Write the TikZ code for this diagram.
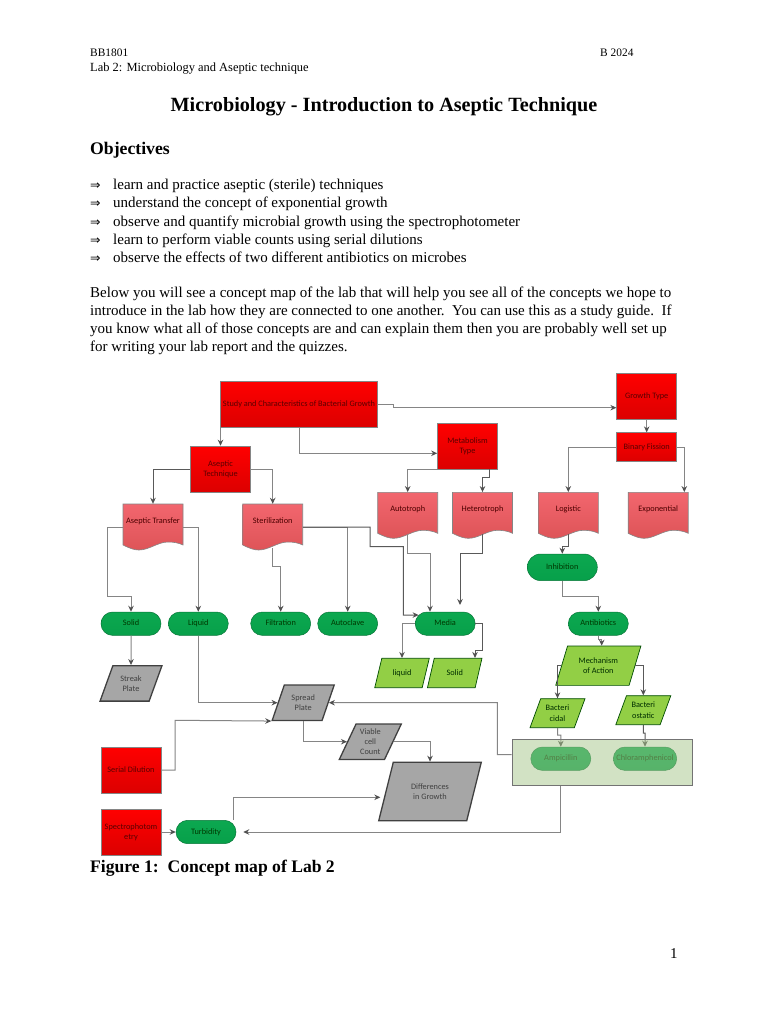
\documentclass[tikz,border=0pt]{standalone}
\usepackage{fontspec}
\setmainfont{Liberation Serif}
\newfontfamily\mapfont{Carlito}
\newfontfamily\markfont{DejaVu Sans}
\usetikzlibrary{arrows.meta,shapes.geometric,shapes.misc}

\definecolor{linegray}{HTML}{858585}
\definecolor{tipgray}{HTML}{505050}
\definecolor{redtop}{HTML}{FF0000}
\definecolor{redlow}{HTML}{DC0000}
\definecolor{pinktop}{HTML}{F2666E}
\definecolor{pinklow}{HTML}{DE5458}
\definecolor{pilltop}{HTML}{0CA850}
\definecolor{pilllow}{HTML}{07A04A}
\definecolor{leaf}{HTML}{92CF45}
\definecolor{slab}{HTML}{A6C68A}

\tikzset{
  pagetext/.style={anchor=base west,inner sep=0pt,font=\fontsize{15}{17}\selectfont},
  aimmark/.style={anchor=base west,inner sep=0pt,font=\markfont\fontsize{12.5}{14}\selectfont},
  headtext/.style={anchor=base west,inner sep=0pt,font=\fontsize{12.45}{14}\selectfont},
  maptext/.style={inner sep=0pt,align=center,font=\mapfont\fontsize{8.3}{10.3}\selectfont},
  redbox/.style={maptext,rectangle,draw=linegray,line width=0.6pt,top color=redtop,bottom color=redlow,text=red!35!black,minimum width=60pt,minimum height=46pt},
  docbox/.style={maptext,rectangle,text=red!30!black,minimum width=60pt,minimum height=46pt,text height=5pt,text depth=12pt},
  docfill/.style={draw=linegray,line width=0.6pt,top color=pinktop,bottom color=pinklow},
  pillbox/.style={maptext,rounded rectangle,draw=pilltop!70!black,line width=0.5pt,top color=pilltop,bottom color=pilllow,text=green!22!black,minimum width=60pt,minimum height=23.4pt,text height=5.6pt,text depth=1.6pt},
  slantbox/.style={maptext,trapezium,trapezium left angle=65,trapezium right angle=115,trapezium stretches=true},
  graybox/.style={slantbox,draw=black!75,line width=1.3pt,fill=black!35,text=black!75},
  leafbox/.style={slantbox,draw=green!30!black,line width=0.7pt,fill=leaf,text=green!18!black},
  conn/.style={draw=linegray,line width=1pt,-{Stealth[length=6pt,width=5.5pt,color=tipgray]}},
  darkconn/.style={conn,draw=black!65}
}

% page drawn as a document shape: rectangle with a wavy lower edge
\newcommand{\docshape}[4]{
  \begin{scope}[shift={(#2,#3)}]
    \path[docfill] (-30,-23) -- (30,-23) -- (30,18) .. controls (26,16) and (21,15) .. (15,15)
      .. controls (5,15) and (-4,23) .. (-14,23) .. controls (-18,23) and (-22,22) .. (-30,18) -- cycle;
  \end{scope}
  \node[docbox] (#1) at (#2,#3) {#4};
}

\begin{document}
\begin{tikzpicture}[x=1pt,y=-1pt]
\useasboundingbox (0,0) rectangle (768,1024);
\fill[white] (0,0) rectangle (768,1024);

% page text
\node[headtext,font=\fontsize{11.4}{14}\selectfont] (course) at (90,57) {BB1801};
\node[headtext,font=\fontsize{11.4}{14}\selectfont] (term) at (600,57) {B 2024};
\node[headtext] (labline) at (90,72) {Lab 2: Microbiology and Aseptic technique};
\node[anchor=base,inner sep=0pt,font=\bfseries\fontsize{20.2}{22}\selectfont] (title) at (384,112) {Microbiology - Introduction to Aseptic Technique};
\node[anchor=base west,inner sep=0pt,font=\bfseries\fontsize{17.7}{20}\selectfont] (objectives) at (90,155) {Objectives};

\node[aimmark] (aim1) at (90,190) {⇒};
\node[aimmark] (aim2) at (90,208) {⇒};
\node[aimmark] (aim3) at (90,226) {⇒};
\node[aimmark] (aim4) at (90,244) {⇒};
\node[aimmark] (aim5) at (90,262) {⇒};
\node[pagetext] (aimtext1) at (113,190) {learn and practice aseptic (sterile) techniques};
\node[pagetext] (aimtext2) at (113,208) {understand the concept of exponential growth};
\node[pagetext] (aimtext3) at (113,226) {observe and quantify microbial growth using the spectrophotometer};
\node[pagetext] (aimtext4) at (113,244) {learn to perform viable counts using serial dilutions};
\node[pagetext] (aimtext5) at (113,262) {observe the effects of two different antibiotics on microbes};

\node[pagetext] (para1) at (90,297) {Below you will see a concept map of the lab that will help you see all of the concepts we hope to};
\node[pagetext] (para2) at (90,315) {introduce in the lab how they are connected to one another.\ \ You can use this as a study guide.\ \ If};
\node[pagetext] (para3) at (90,333) {you know what all of those concepts are and can explain them then you are probably well set up};
\node[pagetext] (para4) at (90,351) {for writing your lab report and the quizzes.};

\node[anchor=base west,inner sep=0pt,font=\bfseries\fontsize{17.6}{20}\selectfont] (caption) at (90,872) {Figure 1:\ \ Concept map of Lab 2};
\node[pagetext] (pagenum) at (670,958) {1};

% red boxes
\node[redbox,minimum width=157pt] (study) at (299,404) {Study and Characteristics of Bacterial Growth};
\node[redbox] (aseptic) at (220.5,469) {Aseptic\\Technique};
\node[redbox] (metab) at (467.5,446) {Metabolism\\Type};
\node[redbox] (growth) at (646.7,396) {Growth Type};
\node[redbox,minimum height=29pt] (binary) at (646.7,447.2) {Binary Fission};
\node[redbox] (serial) at (131,770) {Serial Dilution};
\node[redbox] (spectro) at (131,832) {Spectrophotom\\etry};

% document shapes
\docshape{transfer}{153}{527}{Aseptic Transfer}
\docshape{steril}{272.7}{527}{Sterilization}
\docshape{autotroph}{407.7}{515.3}{Autotroph}
\docshape{hetero}{482.5}{515.3}{Heterotroph}
\docshape{logistic}{568.3}{515.3}{Logistic}
\docshape{expo}{658.2}{515.3}{Exponential}

% pills
\node[pillbox] (solid) at (131,623.7) {Solid};
\node[pillbox] (liquid) at (198.3,623.7) {Liquid};
\node[pillbox] (filter) at (280.7,623.7) {Filtration};
\node[pillbox] (autoclave) at (347.7,623.7) {Autoclave};
\node[pillbox] (media) at (445.2,623.7) {Media};
\node[pillbox] (antibio) at (598.3,623.7) {Antibiotics};
\node[pillbox,minimum width=70pt,minimum height=26.6pt] (inhibit) at (562.3,567.3) {Inhibition};
\node[pillbox] (turbid) at (206,832) {Turbidity};
\node[pillbox] (ampi) at (560.8,758.7) {Ampicillin};
\node[pillbox,minimum width=63.4pt] (chlor) at (645,758.7) {Chloramphenicol};

% slanted boxes
\node[graybox,minimum width=62pt,minimum height=35.4pt] (streak) at (131,683.4) {Streak\\Plate};
\node[graybox,minimum width=62pt,minimum height=35.4pt] (spread) at (303.2,702.7) {Spread\\Plate};
\node[graybox,minimum width=62pt,minimum height=35.4pt] (viable) at (370.3,741.7) {Viable\\cell\\Count};
\node[graybox,minimum width=103pt,minimum height=58.4pt] (diff) at (430,791.5) {Differences\\in Growth};
\node[leafbox,minimum width=54.6pt,minimum height=29.4pt] (liquidg) at (402,673) {liquid};
\node[leafbox,minimum width=54.6pt,minimum height=29.4pt] (solidg) at (454.7,673) {Solid};
\node[leafbox,minimum width=85.3pt,minimum height=39.3pt] (mechan) at (598.3,665.7) {Mechanism\\of Action};
\node[leafbox,minimum width=55pt,minimum height=29pt] (bcidal) at (557.5,713.2) {Bacteri\\cidal};
\node[leafbox,minimum width=55pt,minimum height=29pt] (bstatic) at (643.3,710.2) {Bacteri\\ostatic};

% connectors
\draw[conn] (study.east) -- (393,404) -- (393,407.7) -- (growth.west |- 0,407.7);
\draw[conn] (aseptic.north |- study.south) -- (aseptic.north);
\draw[conn] (study.south) |- (metab.west |- 0,453.3);
\draw[darkconn] (aseptic.west) -| (transfer.north);
\draw[conn] (aseptic.east) -| (steril.north);
\draw[conn] (transfer.west) -- (107.7,527) -- (107.7,596) -- (131,596) -- (solid.north);
\draw[conn] (transfer.east) -| (liquid.north);
\draw[conn] ([yshift=2pt]steril.south) -- (272.7,566) -- (280.7,566) -- (filter.north);
\draw[conn] (steril.east) -| (autoclave.north);
\draw[darkconn] (steril.east) -- (370,527) -- (370,546.7) -- (403.3,546.7) -- (403.3,615) -- (media.162);
\draw[conn] ([yshift=5pt]autotroph.south) -- (407.7,553.7) -- (430,553.7) -- (media.north -| 430,0);
\coordinate (mediagap) at (460,605);
\draw[darkconn] ([yshift=5pt]hetero.south) -- (482.5,553.7) -- (460,553.7) -- (mediagap);
\draw[conn] (metab.south west) -| (autotroph.north);
\draw[darkconn] (metab.south -| 489.3,0) -- (489.3,477.3) -- (482.5,477.3) -- (hetero.north);
\draw[conn] (growth.south) -- (binary.north);
\draw[conn] (binary.west) -| (logistic.north);
\draw[conn] (binary.east) -| (expo.north -| 684.3,0);
\draw[darkconn] ([yshift=5pt]logistic.south) -- (568.3,546.7) -- (562.3,546.7) -- (inhibit.north);
\draw[conn] (inhibit.south) -- (562.3,596) -- (598.3,596) -- (antibio.north);
\draw[conn] (antibio.south) -- (598.3,639.3) -- (601.7,639.3) -- (mechan.north -| 601.7,0);
\draw[darkconn] (mechan.west) -| (bcidal.north);
\draw[darkconn] (mechan.east) -| (bstatic.north);
\draw[conn] (bcidal.south) -- (557.5,735) -- (560.8,735) -- (ampi.north);
\draw[darkconn] (bstatic.south) -- (643.3,733) -- (645,733) -- (chlor.north);
\draw[conn] (media.west) -| (liquidg.north);
\draw[darkconn] (media.east) -- (482.3,623.7) -- (482.3,650.7) -- (475,650.7) -- (solidg.north -| 475,0);
\draw[conn] (solid.south) -- (streak.north);
\draw[conn] (liquid.south) |- (spread.west);
\draw[conn] (serial.east) -- (175,770) -- (175,720.3) -- (spread.bottom left corner);
\draw[conn] (spread.south) |- (viable.west);
\draw[conn] (viable.east) -| (diff.north);
\draw[conn] (spectro.east) -- (turbid.west);
\draw[conn] (turbid.north -| 233,0) -- (233,797.3) -- ([xshift=-5pt]diff.west |- 0,797.3);

% translucent band over the two drug names
\node[rectangle,draw=black!55,line width=1.3pt,fill=slab,fill opacity=0.5,minimum width=180pt,minimum height=46.4pt,inner sep=0pt] (drugs) at (602.3,762.5) {};
\draw[conn] (drugs.west |- 0,754.7) -- (497.3,754.7) -- (497.3,702.7) -- (spread.east);
\draw[conn] (drugs.south -| 560.7,0) -- (560.7,832) -- ([xshift=7pt]turbid.east);
\end{tikzpicture}
\end{document}
